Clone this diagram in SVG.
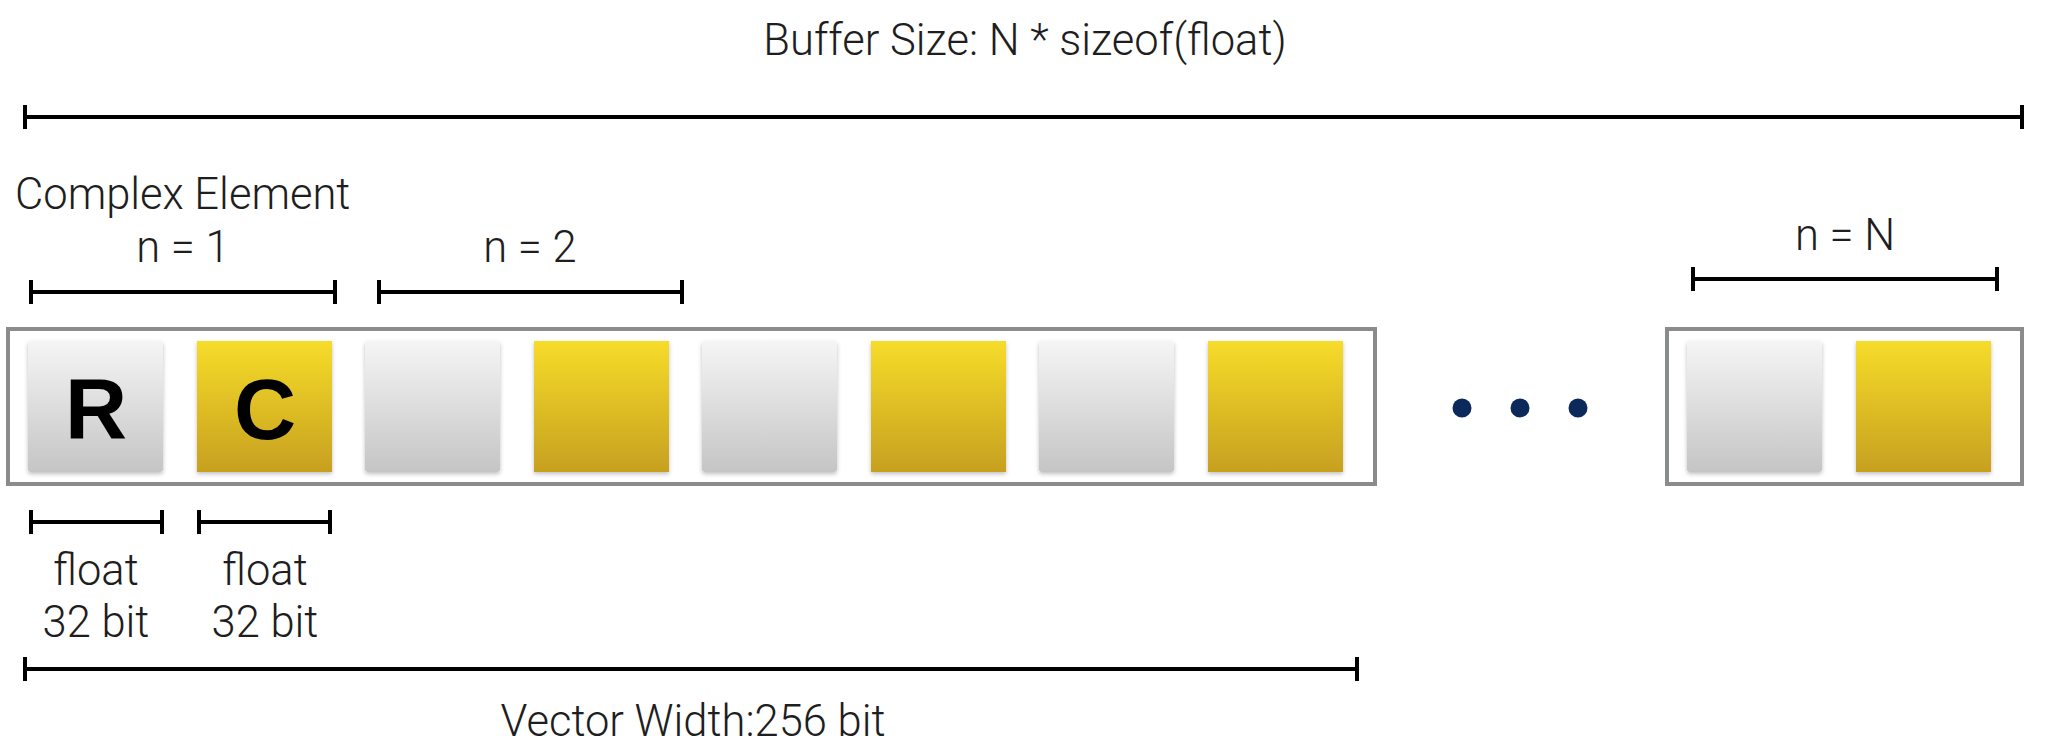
<svg xmlns="http://www.w3.org/2000/svg" width="2048" height="752" viewBox="0 0 2048 752">
<style>
.lbl{font-family:Roboto,"Liberation Sans",Arial,sans-serif;font-weight:300;font-size:43.5px;fill:#1e1e1e;text-anchor:middle}
.big{font-family:"Liberation Sans",Arial,sans-serif;font-size:86px;font-weight:bold;fill:#000;text-anchor:middle}
.dim{stroke:#000;stroke-width:4;fill:none}
.box{fill:#fff;stroke:#8a8b8d;stroke-width:4}
.re{fill:url(#gGray);filter:url(#sh)}
.im{fill:url(#gGold);filter:url(#sh)}
.dot{fill:#0b2a5b}
</style>
<defs>
<linearGradient id="gGray" x1="0" y1="0" x2="0" y2="1">
<stop offset="0" stop-color="#f5f5f5"/>
<stop offset="1" stop-color="#c5c5c5"/>
</linearGradient>
<linearGradient id="gGold" x1="0" y1="0" x2="0" y2="1">
<stop offset="0" stop-color="#f6dc2a"/>
<stop offset="1" stop-color="#c7a01f"/>
</linearGradient>
<filter id="sh" x="-10%" y="-10%" width="120%" height="125%">
<feDropShadow dx="0" dy="2" stdDeviation="2" flood-color="#000" flood-opacity="0.25"/>
</filter>
</defs>
<rect width="2048" height="752" fill="#fff"/>

<g id="title"><text class="lbl" x="1025" y="55">Buffer Size: N * sizeof(float)</text></g>

<g id="connectors">
<path class="dim" d="M25 117H2022M25 105V129M2022 105V129"/>
<path class="dim" d="M31 292H335M31 280V304M335 280V304"/>
<path class="dim" d="M379 292H682M379 280V304M682 280V304"/>
<path class="dim" d="M1693 279H1997M1693 267V291M1997 267V291"/>
<path class="dim" d="M31 522H162M31 510V534M162 510V534"/>
<path class="dim" d="M199 522H330M199 510V534M330 510V534"/>
<path class="dim" d="M25 669H1357M25 657V681M1357 657V681"/>
</g>

<g id="labels">
<text class="lbl" x="15" y="209" style="text-anchor:start">Complex Element</text>
<text class="lbl" x="183" y="262">n = 1</text>
<text class="lbl" x="530" y="262">n = 2</text>
<text class="lbl" x="1845" y="250">n = N</text>
<text class="lbl" x="96" y="585">float</text>
<text class="lbl" x="96" y="637">32 bit</text>
<text class="lbl" x="265" y="585">float</text>
<text class="lbl" x="265" y="637">32 bit</text>
<text class="lbl" x="693" y="736">Vector Width:256 bit</text>
</g>

<g id="vector">
<rect class="box" x="8" y="329" width="1367" height="155"/>
<g id="e1-re"><rect class="re" x="28" y="341" width="135" height="131" rx="3"/><text class="big" x="96" y="438">R</text></g>
<g id="e1-im"><rect class="im" x="197" y="341" width="135" height="131"/><text class="big" x="265" y="439">C</text></g>
<g id="e2-re"><rect class="re" x="365" y="341" width="135" height="131" rx="3"/></g>
<g id="e2-im"><rect class="im" x="534" y="341" width="135" height="131"/></g>
<g id="e3-re"><rect class="re" x="702" y="341" width="135" height="131" rx="3"/></g>
<g id="e3-im"><rect class="im" x="871" y="341" width="135" height="131"/></g>
<g id="e4-re"><rect class="re" x="1039" y="341" width="135" height="131" rx="3"/></g>
<g id="e4-im"><rect class="im" x="1208" y="341" width="135" height="131"/></g>
</g>

<g id="ellipsis">
<circle class="dot" cx="1462" cy="408" r="9.5"/>
<circle class="dot" cx="1520" cy="408" r="9.5"/>
<circle class="dot" cx="1578" cy="408" r="9.5"/>
</g>

<g id="elementN">
<rect class="box" x="1667" y="329" width="355" height="155"/>
<rect class="re" x="1687" y="341" width="135" height="131" rx="3"/>
<rect class="im" x="1856" y="341" width="135" height="131"/>
</g>
</svg>
